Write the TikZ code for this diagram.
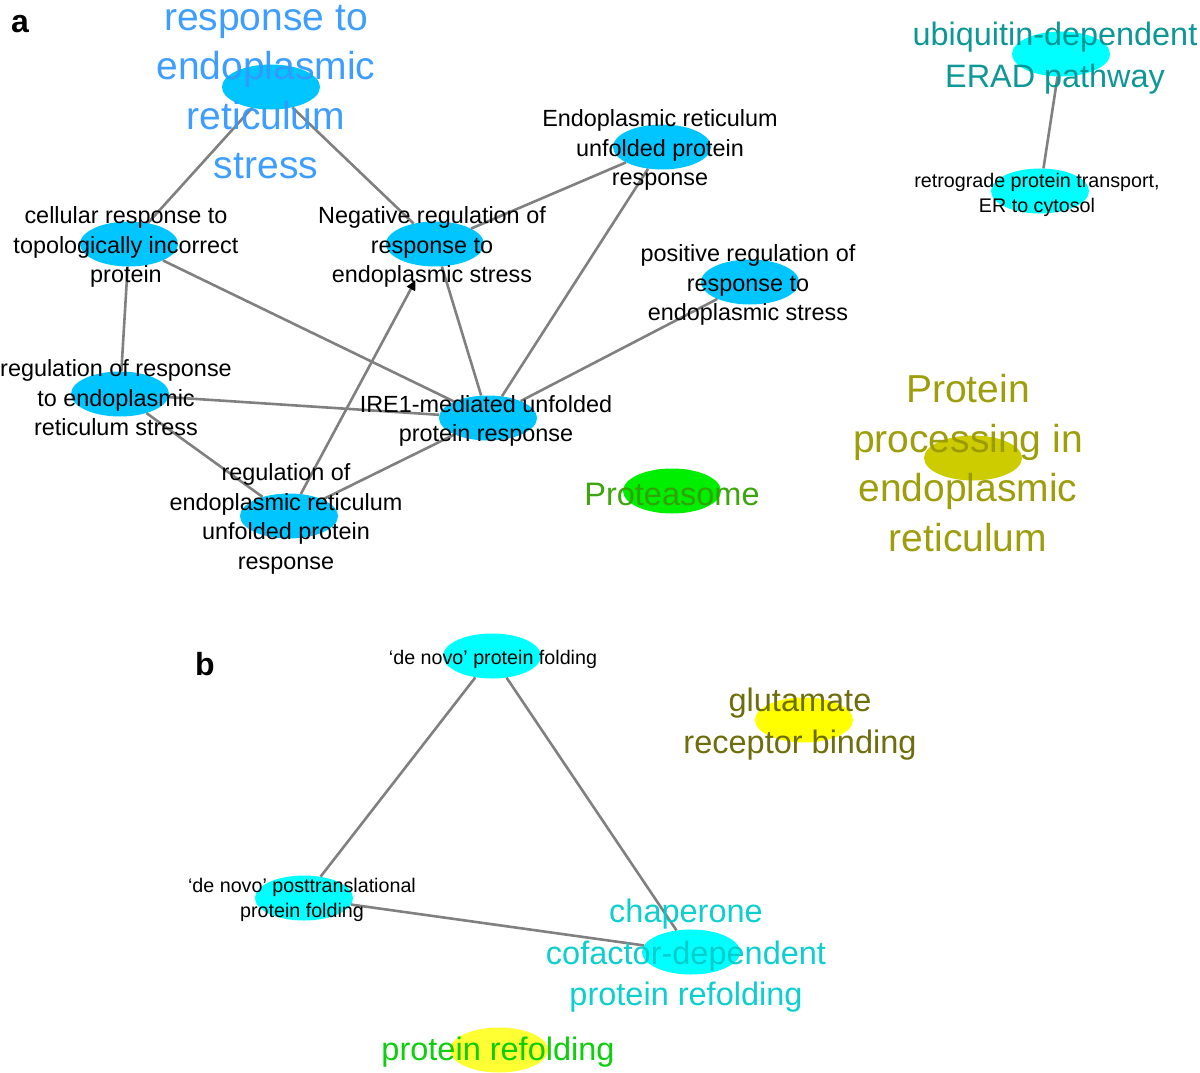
\documentclass[tikz,border=0pt]{standalone}
\usepackage{fontspec}
\setmainfont{Liberation Sans}
\usetikzlibrary{arrows.meta,shapes.geometric}
\definecolor{eblue}{RGB}{0,197,255}
\definecolor{ecyan}{RGB}{0,255,255}
\definecolor{eolive}{RGB}{204,204,0}
\definecolor{egreen}{RGB}{0,238,0}
\definecolor{eyellow}{RGB}{255,255,0}
\definecolor{eyellow2}{RGB}{255,255,51}
\definecolor{tblue}{RGB}{51,153,255}
\definecolor{tteal}{RGB}{0,145,145}
\definecolor{tcyan}{RGB}{0,204,204}
\definecolor{tolive}{RGB}{153,153,0}
\definecolor{tgreen}{RGB}{51,160,0}
\definecolor{tdolive}{RGB}{102,102,0}
\definecolor{tgreen2}{RGB}{0,204,0}
\definecolor{edgegray}{RGB}{128,128,128}
\tikzset{
  term/.style={draw=none, shape=ellipse, minimum width=98pt, minimum height=45pt, inner sep=0pt},
  lbl/.style={align=center, inner sep=0pt, yshift=-2pt},
  small/.style={lbl, font=\fontsize{23.4}{29.5}\selectfont, text=black},
  tiny/.style={lbl, font=\fontsize{19.7}{24.5}\selectfont, text=black},
  big/.style={lbl, font=\fontsize{39}{49.5}\selectfont, text opacity=0.95},
  mid/.style={lbl, font=\fontsize{32.5}{41.5}\selectfont, text opacity=0.95},
  link/.style={draw=edgegray, line width=2.6pt},
  panel/.style={lbl, font=\fontsize{32}{32}\selectfont\bfseries, text=black}
}
\begin{document}
\begin{tikzpicture}[x=1pt, y=-1pt]
\useasboundingbox (0,0) rectangle (1200,1073);
% ellipses
\node[term, fill=eblue] (rers) at (271,87) {};
\node[term, fill=eblue] (cell) at (129,244) {};
\node[term, fill=eblue] (neg) at (435,244) {};
\node[term, fill=eblue] (erupr) at (662,147) {};
\node[term, fill=eblue] (pos) at (750,282) {};
\node[term, fill=eblue] (regresp) at (120,394) {};
\node[term, fill=eblue] (ire) at (488,418) {};
\node[term, fill=eblue] (regupr) at (289,516) {};
\node[term, fill=egreen] (prot) at (672,491) {};
\node[term, fill=eolive] (ppe) at (973,458) {};
\node[term, fill=ecyan] (erad) at (1061,54) {};
\node[term, fill=ecyan] (retro) at (1040,191) {};
\node[term, fill=ecyan] (dnpf) at (492,656) {};
\node[term, fill=ecyan] (dnpt) at (304,898) {};
\node[term, fill=ecyan] (chap) at (691,952) {};
\node[term, fill=eyellow2] (pref) at (499,1050) {};
\node[term, fill=eyellow] (glu) at (804,720) {};
% edges
\draw[link] (rers) -- (cell);
\draw[link] (rers) -- (neg);
\draw[link] (cell) -- (regresp);
\draw[link] (cell) -- (ire);
\draw[link] (erupr) -- (neg);
\draw[link] (erupr) -- (ire);
\draw[link] (neg) -- (ire);
\draw[link] (pos) -- (ire);
\draw[link] (regresp) -- (ire);
\draw[link] (regresp) -- (regupr);
\draw[link] (regupr) -- (ire);
\draw[link, -{Triangle[black, length=10pt, width=9pt]}, shorten >=16pt] (regupr) -- (neg);
\draw[link] (erad) -- (retro);
\draw[link] (dnpf) -- (dnpt);
\draw[link] (dnpf) -- (chap);
\draw[link] (dnpt) -- (chap);
% labels
\node[big, text=tblue] (rersL) at (266,90) {response to\\endoplasmic\\reticulum\\stress};
\node[small] (cellL) at (126,245) {cellular response to\\topologically incorrect\\protein};
\node[small] (negL) at (432,245) {Negative regulation of\\response to\\endoplasmic stress};
\node[small] (eruprL) at (660,148) {Endoplasmic reticulum\\unfolded protein\\response};
\node[small] (posL) at (748,283) {positive regulation of\\response to\\endoplasmic stress};
\node[small] (regrespL) at (116,396) {regulation of response\\to endoplasmic\\reticulum stress};
\node[small] (ireL) at (486,419) {IRE1-mediated unfolded\\protein response};
\node[small] (reguprL) at (286,517) {regulation of\\endoplasmic reticulum\\unfolded protein\\response};
\node[mid, text=tgreen] (protL) at (672,492) {Proteasome};
\node[big, text=tolive] (ppeL) at (968,461) {Protein\\processing in\\endoplasmic\\reticulum};
\node[lbl, font=\fontsize{32.4}{42}\selectfont, text=tteal, text opacity=0.95] (eradL) at (1055,56) {ubiquitin-dependent\\ERAD pathway};
\node[tiny] (retroL) at (1037,193) {retrograde protein transport,\\ER to cytosol};
\node[tiny] (dnpfL) at (493,657) {‘de novo’ protein folding};
\node[tiny] (dnptL) at (302,898) {‘de novo’ posttranslational\\protein folding};
\node[mid, text=tcyan] (chapL) at (686,954) {chaperone\\cofactor-dependent\\protein refolding};
\node[mid, text=tgreen2] (prefL) at (498,1050) {protein refolding};
\node[mid, text=tdolive] (gluL) at (800,722) {glutamate\\receptor binding};
\node[panel] (pa) at (20,22) {a};
\node[panel] (pb) at (205,662) {b};
\end{tikzpicture}
\end{document}
